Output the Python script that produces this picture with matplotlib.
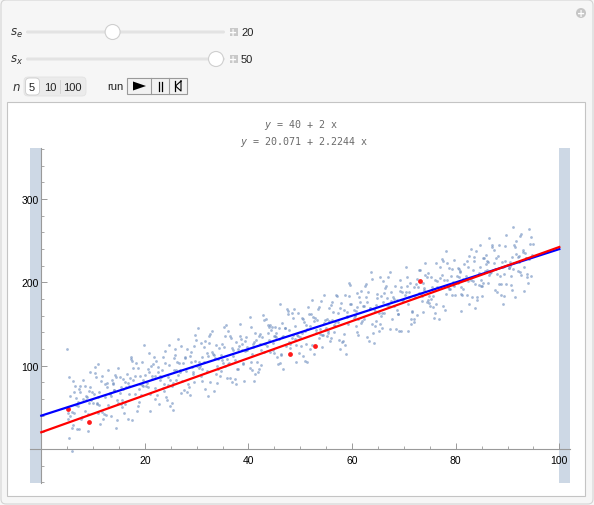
#!/usr/bin/env python3
"""regression demo panel: population cloud, sample of n points, true and fitted lines"""

import matplotlib.pyplot as plt
from matplotlib.patches import FancyBboxPatch, Rectangle, Circle, Polygon

# population cloud (approximate), first batch
bg_x = [
    5.3, 6.1, 7.8, 8.4, 5.9, 9.2, 6.7, 7.1, 8.9, 9.7, 5.6, 6.4, 7.5, 8.1, 9.4, 6.9, 5.2, 8.6, 7.3, 9.9, 4.95, 5.9,
    10.4, 11.2, 12.7, 13.5, 14.1, 10.9, 11.8, 12.3, 13.9, 14.6, 10.2, 11.5, 12.9, 13.2, 14.8, 10.7, 12.1, 13.7, 11.0, 14.4,
    15.3, 16.2, 17.8, 18.4, 19.1, 15.8, 16.9, 17.3, 18.8, 19.6, 15.1, 16.5, 17.6, 18.1, 19.4, 15.6, 16.7, 18.6, 17.0, 19.8,
    20.3, 21.1, 22.6, 23.4, 24.2, 20.8, 21.7, 22.2, 23.8, 24.7, 20.1, 21.4, 22.9, 23.1, 24.5, 20.6, 22.0, 23.6, 21.9, 24.9,
    25.4, 26.3, 27.7, 28.5, 29.2, 25.9, 26.8, 27.2, 28.9, 29.7, 25.2, 26.6, 27.9, 28.2, 29.5, 25.7, 27.0, 28.7, 26.1, 29.9,
    30.2, 31.4, 32.6, 33.3, 34.1, 30.8, 31.9, 32.2, 33.7, 34.8, 30.5, 31.1, 32.9, 33.9, 34.4, 30.1, 31.6, 32.4, 33.1, 34.6,
    35.2, 36.4, 37.1, 38.3, 39.0, 35.9, 36.7, 37.6, 38.8, 39.6, 35.5, 36.1, 37.9, 38.5, 39.3, 35.7, 36.9, 38.1, 37.4, 39.8,
    40.3, 41.2, 42.5, 43.3, 44.1, 40.9, 41.8, 42.1, 43.7, 44.7, 40.5, 41.5, 42.8, 43.0, 44.4, 40.7, 42.3, 43.9, 41.0, 44.9,
    45.3, 46.2, 47.6, 48.4, 49.2, 45.8, 46.7, 47.3, 48.8, 49.7, 45.1, 46.4, 47.9, 48.1, 49.5, 45.6, 47.0, 48.6, 46.0, 49.9,
    50.4, 51.3, 52.6, 53.4, 54.2, 50.9, 51.8, 52.2, 53.8, 54.7, 50.2, 51.5, 52.9, 53.1, 54.5, 50.6, 52.0, 53.6, 51.1, 54.9,
    55.3, 56.2, 57.7, 58.4, 59.1, 55.8, 56.9, 57.2, 58.8, 59.6, 55.1, 56.5, 57.9, 58.2, 59.4, 55.6, 56.7, 58.6, 56.0, 59.8,
    60.3, 61.2, 62.6, 63.4, 64.2, 60.9, 61.7, 62.1, 63.8, 64.7, 60.5, 61.5, 62.9, 63.1, 64.5, 60.7, 62.3, 63.6, 61.0, 64.9,
    65.3, 66.1, 67.6, 68.4, 69.2, 65.8, 66.7, 67.3, 68.8, 69.7, 65.1, 66.4, 67.9, 68.1, 69.5, 65.6, 67.0, 68.6, 66.0, 69.9,
    70.2, 71.3, 72.6, 73.4, 74.1, 70.8, 71.9, 72.2, 73.7, 74.6, 70.5, 71.5, 72.9, 73.1, 74.4, 70.6, 72.0, 73.9, 71.1, 74.8,
    75.3, 76.2, 77.6, 78.4, 79.2, 75.8, 76.7, 77.3, 78.8, 79.7, 75.1, 76.4, 77.9, 78.1, 79.5, 75.6, 77.0, 78.6, 76.0, 79.9,
    80.3, 81.2, 82.6, 83.4, 84.2, 80.9, 81.7, 82.1, 83.8, 84.7, 80.5, 81.5, 82.9, 83.1, 84.5, 80.7, 82.3, 83.6, 81.0, 84.9,
    85.3, 86.2, 87.6, 88.4, 89.1, 85.8, 86.7, 87.3, 88.8, 89.6, 85.1, 86.5, 87.9, 88.2, 89.4, 85.6, 87.0, 88.6, 86.0, 89.8,
    90.3, 91.2, 92.6, 93.4, 94.1, 90.8, 91.7, 92.2, 93.8, 94.5, 90.5, 91.5, 92.9, 93.1, 94.3, 90.7, 92.0, 93.6, 91.0, 92.4,
]
bg_y = [
    12.6, 28.2, 38.6, 45.8, 44.8, 55.4, 53.4, 56.2, 62.8, 68.4, 63.2, 68.8, 76.0, 83.2, 92.8, 23.8, 36.4, 64.2, 72.6, 54.8, 120.0, -2.0,
    91.8, 53.4, 79.4, 40.0, 71.2, 42.8, 87.6, 62.6, 77.8, 34.2, 66.4, 82.0, 52.8, 67.4, 97.6, 55.4, 42.2, 82.4, 102.0, 24.8,
    54.6, 80.4, 97.6, 45.8, 78.2, 84.6, 65.8, 110.6, 56.6, 83.2, 67.2, 90.0, 34.2, 87.2, 104.8, 59.2, 79.4, 52.2, 76.0, 124.6,
    75.6, 100.2, 92.2, 72.8, 58.4, 115.6, 110.4, 105.4, 103.6, 101.4, 89.2, 87.8, 87.8, 86.2, 86.0, 74.2, 73.0, 70.2, 59.8, 51.8,
    46.8, 132.6, 110.4, 75.0, 92.4, 119.8, 94.6, 81.4, 116.8, 105.4, 55.4, 103.2, 93.8, 120.4, 80.0, 94.4, 67.0, 111.4, 83.2, 130.8,
    145.4, 104.8, 80.2, 112.6, 96.2, 127.6, 114.8, 63.4, 124.4, 106.6, 105.0, 81.2, 141.8, 99.8, 121.8, 100.2, 72.2, 126.8, 114.2, 93.2,
    122.4, 84.8, 119.2, 149.6, 103.0, 107.8, 133.4, 78.2, 126.6, 119.2, 136.0, 102.2, 95.8, 132.0, 117.6, 149.4, 80.8, 123.2, 106.8, 122.6,
    97.6, 139.4, 119.0, 155.6, 116.2, 125.8, 92.6, 135.2, 149.4, 127.4, 104.0, 131.0, 160.6, 117.0, 142.8, 95.4, 125.6, 146.8, 82.0, 135.8,
    139.6, 113.4, 162.2, 133.8, 104.4, 145.6, 135.4, 123.6, 168.6, 115.4, 136.2, 150.8, 128.8, 121.2, 163.0, 102.2, 145.0, 137.2, 174.0, 134.8,
    156.8, 104.6, 154.2, 167.8, 137.4, 141.8, 119.6, 178.4, 144.6, 154.4, 123.4, 170.0, 157.8, 139.2, 151.0, 111.2, 162.0, 133.2, 149.2, 144.8,
    141.6, 176.4, 120.4, 166.8, 159.2, 129.6, 184.8, 152.4, 113.6, 174.2, 156.2, 140.0, 174.8, 129.4, 198.8, 154.2, 147.4, 185.2, 133.0, 173.6,
    166.6, 137.4, 182.2, 168.8, 127.4, 187.8, 151.4, 172.2, 203.6, 153.4, 161.0, 176.0, 134.8, 188.2, 166.0, 165.4, 156.6, 212.2, 141.0, 180.8,
    150.6, 187.2, 178.2, 143.8, 203.4, 163.6, 173.4, 212.6, 162.6, 188.4, 142.2, 192.8, 182.8, 172.2, 142.0, 183.2, 207.0, 167.2, 177.0, 178.8,
    184.4, 156.6, 204.2, 177.8, 223.2, 141.6, 194.8, 182.4, 164.4, 211.2, 189.0, 166.0, 186.8, 215.2, 176.8, 195.2, 153.0, 193.8, 199.2, 183.6,
    179.6, 223.4, 171.2, 202.8, 216.4, 157.6, 193.4, 208.6, 192.6, 226.4, 171.2, 201.8, 166.8, 238.2, 201.0, 184.2, 218.0, 194.2, 203.0, 184.8,
    207.6, 185.4, 232.2, 201.8, 178.4, 213.8, 203.4, 225.2, 169.6, 218.4, 217.0, 192.0, 239.8, 182.2, 211.0, 206.4, 201.6, 225.2, 195.0, 195.8,
    229.6, 199.4, 216.2, 244.8, 174.2, 221.6, 211.4, 238.6, 198.6, 225.2, 183.2, 253.0, 209.8, 231.4, 183.8, 214.2, 245.0, 208.2, 226.0, 197.6,
    217.6, 244.4, 209.2, 234.8, 264.2, 190.6, 234.4, 224.4, 206.6, 255.0, 225.0, 182.0, 238.8, 218.2, 245.6, 196.4, 230.0, 229.2, 267.0, 212.8,
]

# population cloud, second batch
bg_x2 = [
    5.55, 6.45, 7.35, 8.05, 9.45, 5.15, 6.05, 7.75, 8.65, 9.25, 5.85, 6.75, 7.05, 8.35, 8.95, 5.35, 6.25, 7.55, 9.65, 9.05,
    14.45, 13.55, 12.65, 11.95, 10.55, 14.85, 13.95, 12.25, 11.35, 10.75, 14.15, 13.25, 12.95, 11.65, 11.05, 14.65, 13.75, 12.45, 10.35, 10.95,
    15.55, 16.45, 17.35, 18.05, 19.45, 15.15, 16.05, 17.75, 18.65, 19.25, 15.85, 16.75, 17.05, 18.35, 18.95, 15.35, 16.25, 17.55, 19.65, 19.05,
    24.45, 23.55, 22.65, 21.95, 20.55, 24.85, 23.95, 22.25, 21.35, 20.75, 24.15, 23.25, 22.95, 21.65, 21.05, 24.65, 23.75, 22.45, 20.35, 20.95,
    25.55, 26.45, 27.35, 28.05, 29.45, 25.15, 26.05, 27.75, 28.65, 29.25, 25.85, 26.75, 27.05, 28.35, 28.95, 25.35, 26.25, 27.55, 29.65, 29.05,
    34.45, 33.55, 32.65, 31.95, 30.55, 34.85, 33.95, 32.25, 31.35, 30.75, 34.15, 33.25, 32.95, 31.65, 31.05, 34.65, 33.75, 32.45, 30.35, 30.95,
    35.55, 36.45, 37.35, 38.05, 39.45, 35.15, 36.05, 37.75, 38.65, 39.25, 35.85, 36.75, 37.05, 38.35, 38.95, 35.35, 36.25, 37.55, 39.65, 39.05,
    44.45, 43.55, 42.65, 41.95, 40.55, 44.85, 43.95, 42.25, 41.35, 40.75, 44.15, 43.25, 42.95, 41.65, 41.05, 44.65, 43.75, 42.45, 40.35, 40.95,
    45.55, 46.45, 47.35, 48.05, 49.45, 45.15, 46.05, 47.75, 48.65, 49.25, 45.85, 46.75, 47.05, 48.35, 48.95, 45.35, 46.25, 47.55, 49.65, 49.05,
    54.45, 53.55, 52.65, 51.95, 50.55, 54.85, 53.95, 52.25, 51.35, 50.75, 54.15, 53.25, 52.95, 51.65, 51.05, 54.65, 53.75, 52.45, 50.35, 50.95,
    55.55, 56.45, 57.35, 58.05, 59.45, 55.15, 56.05, 57.75, 58.65, 59.25, 55.85, 56.75, 57.05, 58.35, 58.95, 55.35, 56.25, 57.55, 59.65, 59.05,
    64.45, 63.55, 62.65, 61.95, 60.55, 64.85, 63.95, 62.25, 61.35, 60.75, 64.15, 63.25, 62.95, 61.65, 61.05, 64.65, 63.75, 62.45, 60.35, 60.95,
    65.55, 66.45, 67.35, 68.05, 69.45, 65.15, 66.05, 67.75, 68.65, 69.25, 65.85, 66.75, 67.05, 68.35, 68.95, 65.35, 66.25, 67.55, 69.65, 69.05,
    74.45, 73.55, 72.65, 71.95, 70.55, 74.85, 73.95, 72.25, 71.35, 70.75, 74.15, 73.25, 72.95, 71.65, 71.05, 74.65, 73.75, 72.45, 70.35, 70.95,
    75.55, 76.45, 77.35, 78.05, 79.45, 75.15, 76.05, 77.75, 78.65, 79.25, 75.85, 76.75, 77.05, 78.35, 78.95, 75.35, 76.25, 77.55, 79.65, 79.05,
    84.45, 83.55, 82.65, 81.95, 80.55, 84.85, 83.95, 82.25, 81.35, 80.75, 84.15, 83.25, 82.95, 81.65, 81.05, 84.65, 83.75, 82.45, 80.35, 80.95,
    85.55, 86.45, 87.35, 88.05, 89.45, 85.15, 86.05, 87.75, 88.65, 89.25, 85.85, 86.75, 87.05, 88.35, 88.95, 85.35, 86.25, 87.55, 89.65, 89.05,
    94.45, 93.55, 92.65, 91.95, 90.55, 94.85, 93.95, 92.25, 91.35, 90.75, 94.15, 93.25, 92.95, 91.65, 91.05, 94.65, 93.75, 92.45, 90.35, 90.95,
]
bg_y2 = [
    39.1, 75.9, 23.7, 60.1, 73.9, 43.3, 82.1, 35.5, 58.3, 69.5, 25.7, 61.5, 51.1, 75.7, 41.9, 86.7, 43.5, 68.1, 58.3, 22.1,
    86.9, 63.1, 74.3, 35.9, 86.1, 54.7, 70.9, 78.5, 29.7, 53.5, 89.3, 65.5, 94.9, 44.3, 68.1, 58.3, 79.5, 40.9, 98.7, 61.9,
    50.1, 74.9, 107.7, 66.1, 76.9, 86.3, 43.1, 82.5, 97.3, 64.5, 71.7, 36.5, 85.1, 102.7, 71.9, 74.7, 54.5, 106.1, 75.3, 87.1,
    76.9, 110.1, 54.3, 87.9, 96.1, 82.7, 117.9, 64.5, 83.7, 92.5, 62.3, 94.5, 82.9, 102.3, 66.1, 125.3, 78.5, 97.9, 79.7, 45.9,
    109.1, 88.9, 103.7, 68.1, 123.9, 75.3, 95.1, 109.5, 64.3, 90.5, 112.7, 92.5, 123.1, 77.7, 103.9, 79.7, 104.5, 71.1, 137.3, 98.1,
    87.9, 109.1, 138.3, 93.9, 99.1, 125.7, 78.9, 111.5, 122.7, 87.5, 108.3, 69.5, 116.9, 129.3, 96.1, 113.3, 89.5, 135.9, 96.7, 110.9,
    99.1, 135.9, 83.7, 120.1, 133.9, 103.3, 142.1, 95.5, 118.3, 129.5, 85.7, 121.5, 111.1, 135.7, 101.9, 146.7, 103.5, 128.1, 118.3, 82.1,
    146.9, 123.1, 134.3, 95.9, 146.1, 114.7, 130.9, 138.5, 89.7, 113.5, 149.3, 125.5, 154.9, 104.3, 128.1, 118.3, 139.5, 100.9, 158.7, 121.9,
    110.1, 134.9, 167.7, 126.1, 136.9, 146.3, 103.1, 142.5, 157.3, 124.5, 131.7, 96.5, 145.1, 162.7, 131.9, 134.7, 114.5, 166.1, 135.3, 147.1,
    136.9, 170.1, 114.3, 147.9, 156.1, 142.7, 177.9, 124.5, 143.7, 152.5, 122.3, 154.5, 142.9, 162.3, 126.1, 185.3, 138.5, 157.9, 139.7, 105.9,
    169.1, 148.9, 163.7, 128.1, 183.9, 135.3, 155.1, 169.5, 124.3, 150.5, 172.7, 152.5, 183.1, 137.7, 163.9, 139.7, 164.5, 131.1, 197.3, 158.1,
    147.9, 169.1, 198.3, 153.9, 159.1, 185.7, 138.9, 171.5, 182.7, 147.5, 168.3, 129.5, 176.9, 189.3, 156.1, 173.3, 149.5, 195.9, 156.7, 170.9,
    159.1, 195.9, 143.7, 180.1, 193.9, 163.3, 202.1, 155.5, 178.3, 189.5, 145.7, 181.5, 171.1, 195.7, 161.9, 206.7, 163.5, 188.1, 178.3, 142.1,
    206.9, 183.1, 194.3, 155.9, 206.1, 174.7, 190.9, 198.5, 149.7, 173.5, 209.3, 185.5, 214.9, 164.3, 188.1, 178.3, 199.5, 160.9, 218.7, 181.9,
    170.1, 194.9, 227.7, 186.1, 196.9, 206.3, 163.1, 202.5, 217.3, 184.5, 191.7, 156.5, 205.1, 222.7, 191.9, 194.7, 174.5, 226.1, 195.3, 207.1,
    196.9, 230.1, 174.3, 207.9, 216.1, 202.7, 237.9, 184.5, 203.7, 212.5, 182.3, 214.5, 202.9, 222.3, 186.1, 245.3, 198.5, 217.9, 199.7, 165.9,
    229.1, 208.9, 223.7, 188.1, 243.9, 195.3, 215.1, 229.5, 184.3, 210.5, 232.7, 212.5, 243.1, 197.7, 223.9, 199.7, 224.5, 191.1, 257.3, 218.1,
    207.9, 229.1, 258.3, 213.9, 219.1, 245.7, 198.9, 231.5, 242.7, 207.5, 228.3, 189.5, 236.9, 249.3, 216.1, 233.3, 209.5, 255.9, 216.7, 230.9,
]

# the n = 5 sample (red points)
sample_x = [5.2, 9.3, 48.1, 52.9, 73.2]
sample_y = [48.0, 32.0, 113.6, 124.0, 201.6]

# true and fitted lines
true_line = (40, 2)
fit_line = (20.071, 2.2244)
line_x = [0, 100]

# control values
se_value, se_range = 20, (1, 45)
sx_value, sx_range = 50, (1, 50)
n_choices = ["5", "10", "100"]

fig = plt.figure(figsize=(5.94, 5.06), dpi=100)
fig.patch.set_facecolor("#f6f6f6")

# pixel-coordinate overlay for the panel chrome
bg = fig.add_axes([0, 0, 1, 1], zorder=0)
bg.set_xlim(0, 594)
bg.set_ylim(506, 0)
bg.axis("off")

bg.add_patch(FancyBboxPatch((1, 1), 592, 504, boxstyle="round,pad=0,rounding_size=5",
                            fc="#f6f6f6", ec="#d4d4d4", lw=0.8))
bg.add_patch(Rectangle((7, 103), 578, 394, fc="white", ec="#c4c4c4", lw=0.8))

ui_font = "Liberation Sans"


def slider(y, label, value, vrange):
    bg.text(10, y, label, fontsize=8.5, va="center", ha="left", color="#333333")
    bg.add_patch(FancyBboxPatch((26, y - 1.5), 199, 3, boxstyle="round,pad=0,rounding_size=1.5",
                                fc="#e3e3e3", ec="none"))
    frac = (value - vrange[0]) / (vrange[1] - vrange[0])
    bg.add_patch(Circle((34 + frac * 182, y), 7.5, fc="white", ec="#cfcfcf", lw=0.8, zorder=3))
    bg.add_patch(Rectangle((229.5, y - 4), 8, 8, fc="#c9c9c9", ec="none"))
    bg.text(233.5, y, "+", fontsize=7, color="white", ha="center", va="center", fontweight="bold")
    bg.text(241, y, str(value), fontsize=8, va="center", ha="left", family=ui_font, color="#222222")


slider(33, "$s_e$", se_value, se_range)
slider(60, "$s_x$", sx_value, sx_range)

# n setter bar
bg.text(12, 87, "$n$", fontsize=8.5, va="center", ha="left", color="#333333")
bg.add_patch(FancyBboxPatch((24, 78), 62, 19, boxstyle="round,pad=0,rounding_size=4",
                            fc="#ebebeb", ec="#e2e2e2", lw=0.6))
bg.add_patch(FancyBboxPatch((25.5, 79), 14, 17, boxstyle="round,pad=0,rounding_size=4",
                            fc="white", ec="#cccccc", lw=0.6))
for label, cx in zip(n_choices, [32, 50, 72]):
    bg.text(cx, 87.5, label, fontsize=8, ha="center", va="center", family=ui_font, color="#222222")
bg.plot([59.5, 59.5], [81, 94], color="#d0d0d0", lw=0.6)

# animation buttons
bg.text(115, 86.5, "run", fontsize=8, ha="center", va="center", family=ui_font, color="#222222")
bg.add_patch(Rectangle((126.5, 79), 60, 16, fc="#f2f2f2", ec="#9a9a9a", lw=0.8))
bg.plot([151, 151], [79, 95], color="#9a9a9a", lw=0.8)
bg.plot([169, 169], [79, 95], color="#9a9a9a", lw=0.8)
bg.add_patch(Polygon([[133, 82.5], [133, 91.5], [146, 87]], closed=True, fc="black", ec="none"))
bg.plot([158.5, 158.5], [82.5, 91.5], color="black", lw=0.9)
bg.plot([161.5, 161.5], [82.5, 91.5], color="black", lw=0.9)
bg.plot([174.5, 174.5], [82, 92], color="black", lw=0.9)
bg.plot([181, 175.5, 181, 181], [82, 87, 92, 82], color="black", lw=0.8)

# top right options button
bg.add_patch(Circle((581, 14), 5, fc="#c6c6c6", ec="none"))
bg.text(581, 14.3, "+", fontsize=7, color="white", ha="center", va="center", fontweight="bold")

# titles
plt.rcParams["mathtext.fontset"] = "custom"
plt.rcParams["mathtext.it"] = "DejaVu Sans Mono:italic"
plt.rcParams["mathtext.rm"] = "DejaVu Sans Mono"
title_1 = f"$y$ = {true_line[0]} + {true_line[1]} x"
title_2 = f"$y$ = {fit_line[0]} + {fit_line[1]} x"
bg.text(301, 125, title_1, fontsize=7.2, family="DejaVu Sans Mono", color="#6a6a6a", ha="center", va="center")
bg.text(304, 142, title_2, fontsize=7.2, family="DejaVu Sans Mono", color="#6a6a6a", ha="center", va="center")

# plot area
ax = fig.add_axes([30.4 / 594, (506 - 484.3) / 506, 539.8 / 594, 335 / 506], zorder=1)
ax.set_facecolor("none")
ax.set_xlim(-2.1, 102.1)
ax.set_ylim(-41.2, 361)

ax.axvspan(-2.1, 0, color="#cdd8e5", lw=0, zorder=0)
ax.axvspan(100, 102.1, color="#cdd8e5", lw=0, zorder=0)

ax.scatter(bg_x + bg_x2, bg_y + bg_y2, s=4, color="#6a8bbd", alpha=0.6, lw=0, zorder=1)
ax.plot(line_x, [true_line[0] + true_line[1] * v for v in line_x], color="#0000ff", lw=1.6, zorder=3)
ax.plot(line_x, [fit_line[0] + fit_line[1] * v for v in line_x], color="#ff0000", lw=1.6, zorder=4)
ax.scatter(sample_x, sample_y, s=12, color="#ff1a1a", lw=0, zorder=2)

for side in ["top", "right"]:
    ax.spines[side].set_visible(False)
ax.spines["left"].set_position(("data", 0))
ax.spines["bottom"].set_position(("data", 0))
for side in ["left", "bottom"]:
    ax.spines[side].set_color("#9a9a9a")
    ax.spines[side].set_linewidth(0.8)

ax.set_xticks([20, 40, 60, 80, 100])
ax.set_xticks(range(5, 101, 5), minor=True)
ax.set_yticks([100, 200, 300])
ax.set_yticks(range(-40, 361, 20), minor=True)
ax.tick_params(which="both", direction="in", color="#9a9a9a", labelsize=7.5, labelcolor="black")
ax.tick_params(which="major", length=4, width=0.7, pad=4)
ax.tick_params(which="minor", length=2.5, width=0.6)
ax.tick_params(axis="y", pad=2)
for lab in ax.get_xticklabels() + ax.get_yticklabels():
    lab.set_family(ui_font)

fig.savefig("out.png", dpi=100, facecolor=fig.get_facecolor())
